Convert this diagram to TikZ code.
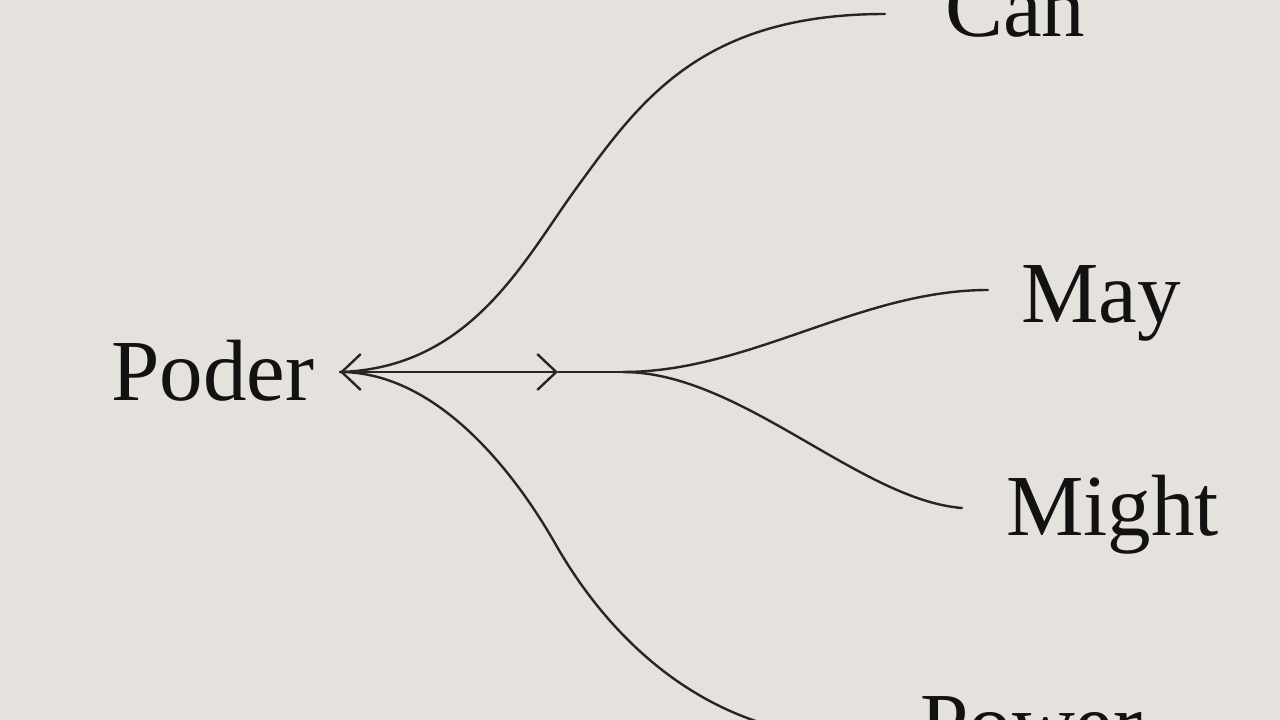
\documentclass[tikz,border=0pt]{standalone}
\usepackage{fontspec}
\setmainfont{Liberation Serif}
\usetikzlibrary{arrows.meta}
\definecolor{bg}{HTML}{E5E2DD}
\definecolor{ink}{HTML}{262626}
\definecolor{txt}{HTML}{121212}
\tikzset{
  word/.style={anchor=base west, inner sep=0pt, text=txt, font=\fontsize{87}{87}\selectfont},
  link/.style={draw=ink, line width=2.4pt, line cap=round},
}
\begin{document}
\begin{tikzpicture}[x=1pt,y=-1pt]
\useasboundingbox (0,0) rectangle (1280,720);
\fill[bg] (0,0) rectangle (1280,720);
\clip (0,0) rectangle (1280,720);

% words
\node[word] (poder) at (111,400) {Poder};
\node[word] (can)   at (945,36)  {Can};
\node[word] (may)   at (1021,322) {May};
\node[word] (might) at (1006,535) {Might};
\node[word] (power) at (920,753) {Power};

% junction points
\coordinate (hub)   at (340,372);
\coordinate (mid)   at (558,372);
\coordinate (split) at (623,372);
\coordinate (canmid) at (575,190);
\coordinate (canend) at (885,14);
\coordinate (powmid) at (556,545);
\coordinate (powend) at (860,738);
\coordinate (mayend) at (988,290);
\coordinate (mightend) at (962,508);

% straight line with the two barbs
\draw[link, {Straight Barb[length=19pt,width=36pt,line width=2.4pt]}-{Straight Barb[length=19pt,width=36pt,line width=2.4pt]}] (hub) -- (mid);
\draw[link] (mid) -- (split);

% Can
\draw[link] (hub) .. controls (470,368) and (523,262) .. (canmid)
                  .. controls (639,102) and (700,14) .. (canend);
% Power
\draw[link] (hub) .. controls (440,372) and (518,478) .. (powmid)
                  .. controls (604,629) and (700,738) .. (powend);
% May
\draw[link] (split) .. controls (750,372) and (860,290) .. (mayend);
% Might
\draw[link] (split) .. controls (740,372) and (860,500) .. (mightend);
\end{tikzpicture}
\end{document}
